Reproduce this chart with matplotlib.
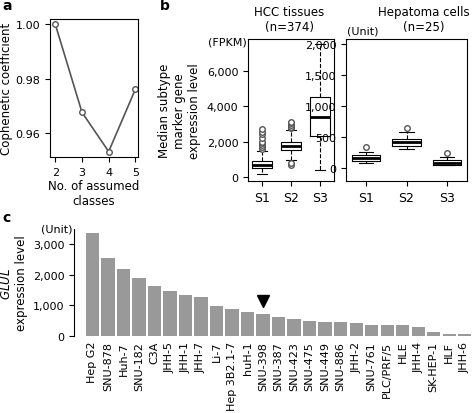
import matplotlib
matplotlib.use("Agg")
import matplotlib.pyplot as plt

k = [2, 3, 4, 5]
coph = [1.000, 0.9675, 0.953, 0.976]

groups = ["S1", "S2", "S3"]
hcc = [  # (wlo, q1, med, q3, whi, outliers)
    (150, 500, 650, 900, 1450, [1600, 1700, 1800, 1900, 2000, 2200, 2400, 2550, 2700]),
    (950, 1550, 1750, 2000, 2650, [650, 800, 2750, 2850, 2950, 3050, 3100]),
    (400, 2300, 3400, 4500, 7500, []),
]
hep = [
    (75, 100, 150, 200, 260, [330]),
    (300, 350, 420, 470, 580, [640]),
    (40, 50, 80, 120, 180, [230]),
]
cells = ["Hep G2", "SNU-878", "Huh-7", "SNU-182", "C3A", "JHH-5", "JHH-1", "JHH-7", "Li-7",
         "Hep 3B2.1-7", "huH-1", "SNU-398", "SNU-387", "SNU-423", "SNU-475", "SNU-449",
         "SNU-886", "JHH-2", "SNU-761", "PLC/PRF/5", "HLE", "JHH-4", "SK-HEP-1", "HLF", "JHH-6"]
glul = [3380, 2540, 2180, 1900, 1640, 1480, 1350, 1280, 990, 890, 800, 730, 630, 570, 500,
        470, 460, 430, 370, 370, 360, 300, 130, 60, 60]

W, H = 474, 414
fig = plt.figure(figsize=(W/100, H/100), dpi=100)
plt.rcParams['font.size'] = 8
gray = "#555555"

def ax_px(l, t, r, b):
    return fig.add_axes([l/W, 1-b/H, (r-l)/W, (b-t)/H])

# a
a = ax_px(50, 20, 138, 158)
a.plot(k, coph, '-o', color=gray, mfc='white', ms=4, lw=1.2)
a.set_xlim(1.8, 5.1); a.set_ylim(0.951, 1.002)
a.set_xticks(k); a.set_yticks([0.96, 0.98, 1.00]); a.set_yticklabels(["0.96", "0.98", "1.00"])
a.set_ylabel("Cophenetic coefficient", fontsize=8.5, labelpad=2)
a.set_xlabel("No. of assumed\nclasses", labelpad=2, fontsize=8.5)
fig.text(2/W, 1-10/H, "a", fontsize=10, fontweight='bold')

def box(ax, data):
    stats = [dict(whislo=d[0], q1=d[1], med=d[2], q3=d[3], whishi=d[4], fliers=d[5], label=g)
             for d, g in zip(data, groups)]
    ax.bxp(stats, widths=0.7,
           boxprops=dict(color='black', lw=0.8),
           medianprops=dict(color='black', lw=2),
           whiskerprops=dict(color='black', lw=0.8, ls='--'),
           capprops=dict(color='black', lw=0.8),
           flierprops=dict(marker='o', mfc='white', mec=gray, ms=4))

b1 = ax_px(248, 40, 334, 182)
box(b1, hcc)
b1.set_ylim(-230, 7800)
b1.set_yticks([0, 2000, 4000, 6000]); b1.set_yticklabels(["0", "2,000", "4,000", "6,000"])
fig.text(289/W, 1-20/H, "HCC tissues\n(n=374)", fontsize=8.5, ha='center', va='center')
b1.text(-0.02, 0.98, "(FPKM)", transform=b1.transAxes, ha='right', va='center')
b1.set_ylabel("Median subtype\nmarker gene\nexpression level", fontsize=8.5)
b1.tick_params(axis='x', labelsize=9)
fig.text(160/W, 1-10/H, "b", fontsize=10, fontweight='bold')

b2 = ax_px(346, 40, 467, 182)
box(b2, hep)
b2.set_ylim(-215, 2077)
b2.set_yticks([0, 500, 1000, 1500, 2000]); b2.set_yticklabels(["0", "500", "1,000", "1,500", "2,000"])
fig.text(424/W, 1-20/H, "Hepatoma cells\n(n=25)", fontsize=8.5, ha='center', va='center')
fig.text(363/W, 1-32/H, "(Unit)", ha='center', va='center')
b2.tick_params(axis='x', labelsize=9)

# c
c = ax_px(80, 230, 474, 337)
x = list(range(len(cells)))
c.bar(x, glul, width=0.85, color="#999999")
c.set_xlim(-0.8, len(cells) - 0.4)
c.set_ylim(0, 3500)
c.set_yticks([0, 1000, 2000, 3000]); c.set_yticklabels(["0", "1,000", "2,000", "3,000"])
c.set_xticks(x); c.set_xticklabels(cells, rotation=90, fontsize=8)
c.tick_params(axis='x', length=0)
for s in ['top', 'right', 'bottom']:
    c.spines[s].set_visible(False)
c.spines['left'].set_position(('outward', 4))
i = cells.index("SNU-398")
c.plot([i], [glul[i] + 420], marker='v', color='black', ms=9)
c.text(-0.02, 1.0, "(Unit)", transform=c.transAxes, ha='right', va='center')
c.set_ylabel("$\\it{GLUL}$\nexpression level", fontsize=8.5)
fig.text(2/W, 1-222/H, "c", fontsize=10, fontweight='bold')

fig.savefig("out.png", dpi=100)
